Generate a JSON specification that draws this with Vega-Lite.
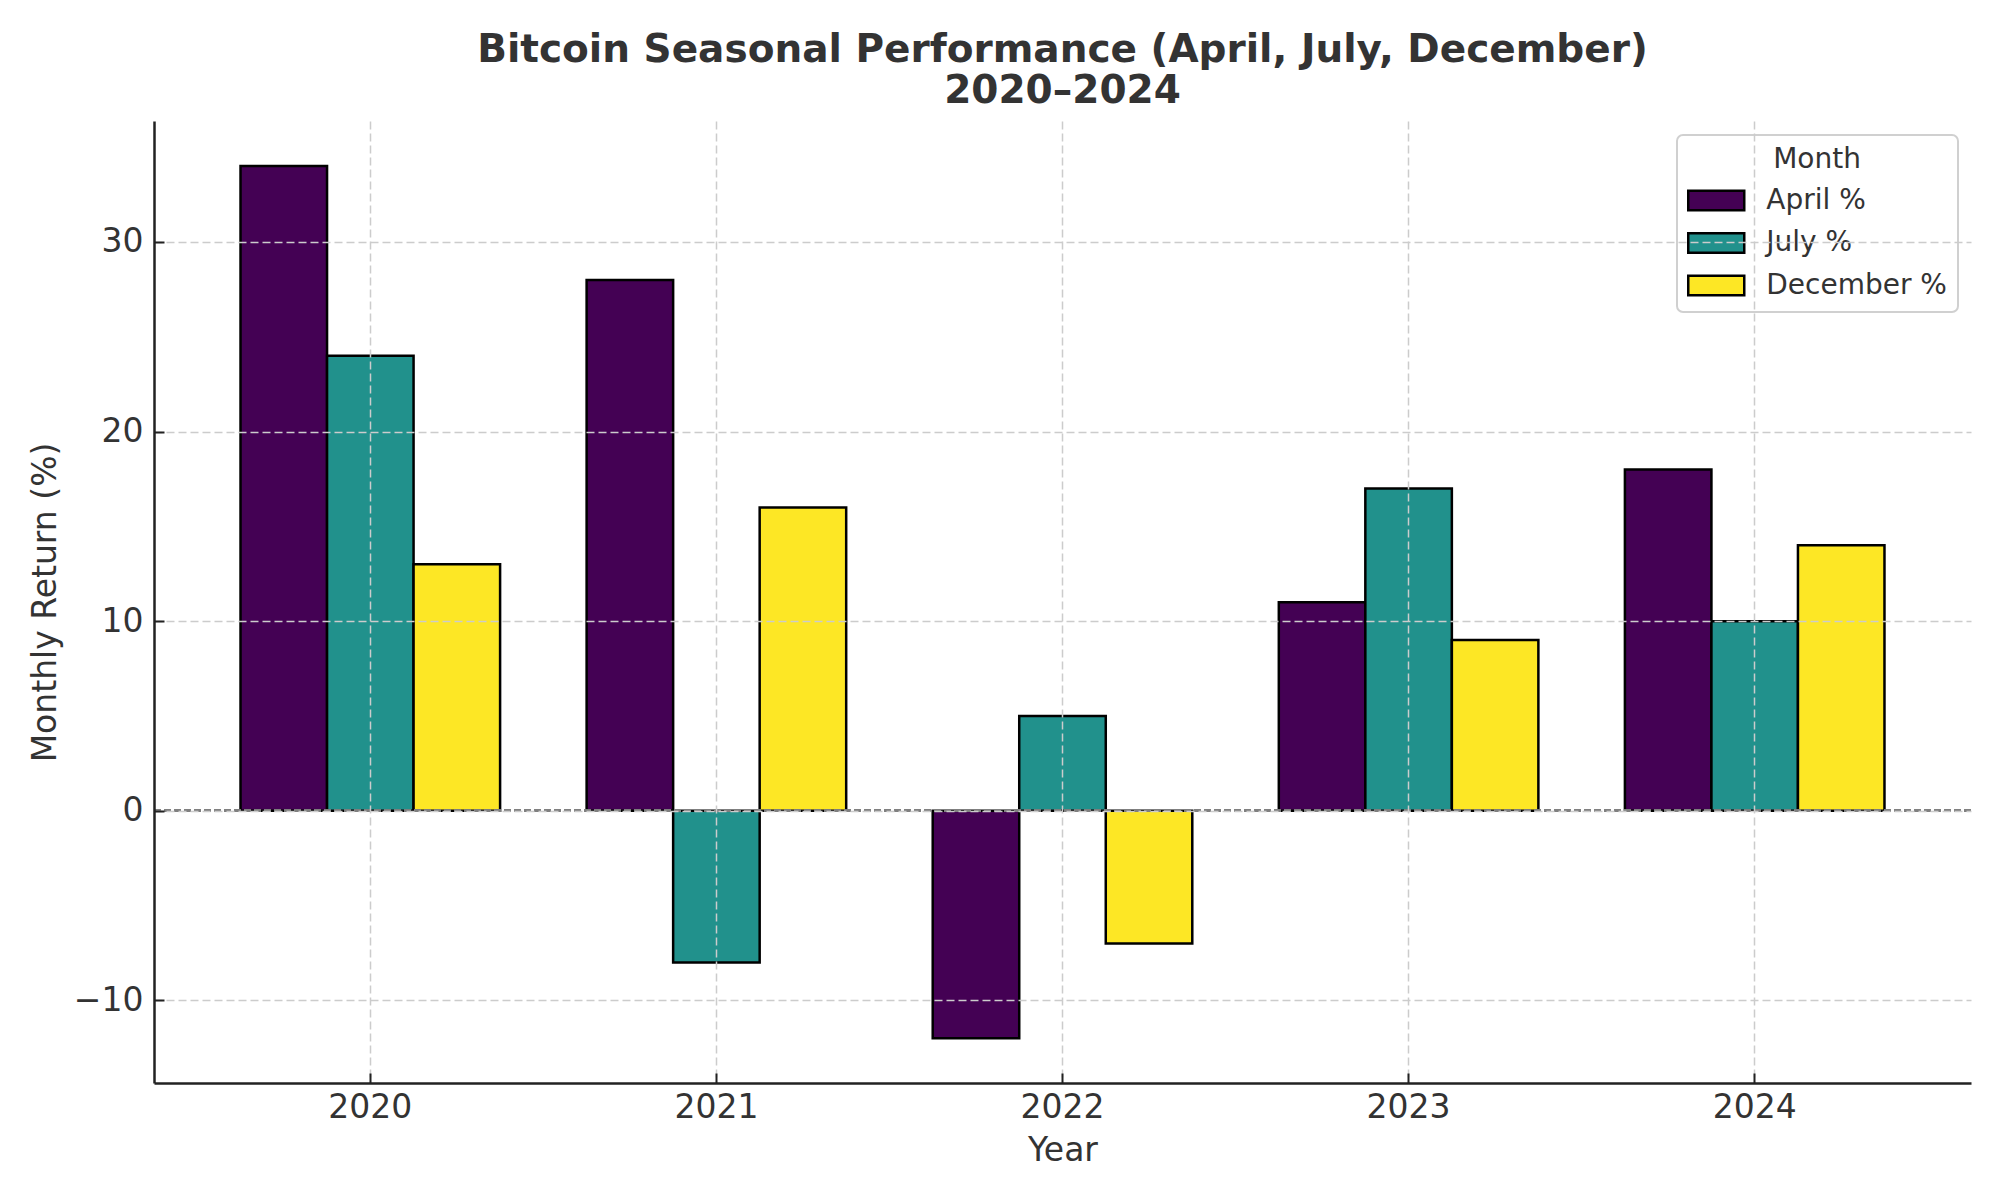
{
  "$schema": "https://vega.github.io/schema/vega-lite/v6.json",
  "width": 1817,
  "height": 962,
  "autosize": {"type": "none"},
  "padding": {"left": 154, "top": 121, "right": 29, "bottom": 117},
  "background": "white",
  "config": {
    "font": "DejaVu Sans",
    "view": {"stroke": null}
  },
  "title": {
    "text": ["Bitcoin Seasonal Performance (April, July, December)", "2020–2024"],
    "fontSize": 39,
    "fontWeight": "bold",
    "color": "#333333",
    "anchor": "middle",
    "frame": "group",
    "offset": -21,
    "baseline": "alphabetic",
    "lineHeight": 41
  },
  "data": {
    "values": [
      {"Year": "2020", "Month": "April %", "Return": 34},
      {"Year": "2020", "Month": "July %", "Return": 24},
      {"Year": "2020", "Month": "December %", "Return": 13},
      {"Year": "2021", "Month": "April %", "Return": 28},
      {"Year": "2021", "Month": "July %", "Return": -8},
      {"Year": "2021", "Month": "December %", "Return": 16},
      {"Year": "2022", "Month": "April %", "Return": -12},
      {"Year": "2022", "Month": "July %", "Return": 5},
      {"Year": "2022", "Month": "December %", "Return": -7},
      {"Year": "2023", "Month": "April %", "Return": 11},
      {"Year": "2023", "Month": "July %", "Return": 17},
      {"Year": "2023", "Month": "December %", "Return": 9},
      {"Year": "2024", "Month": "April %", "Return": 18},
      {"Year": "2024", "Month": "July %", "Return": 10},
      {"Year": "2024", "Month": "December %", "Return": 14}
    ]
  },
  "layer": [
    {
      "mark": {"type": "bar", "stroke": "black", "strokeWidth": 2.5},
      "encoding": {
        "x": {
          "field": "Year",
          "type": "nominal",
          "scale": {"paddingInner": 0.25, "paddingOuter": 0.25},
          "axis": {
            "title": "Year",
            "labelAngle": 0,
            "bandPosition": 0.5,
            "grid": true,
            "gridColor": "#cccccc",
            "gridDash": [8, 4],
            "gridWidth": 1.5,
            "domainColor": "#222222",
            "domainWidth": 2.5,
            "tickColor": "#222222",
            "tickWidth": 2,
            "tickSize": -10,
            "labelPadding": 18,
            "labelFontSize": 33,
            "labelColor": "#333333",
            "titleFontSize": 33,
            "titleFontWeight": "normal",
            "titleColor": "#333333",
            "titleX": 908.5,
            "titleY": 67,
            "titleBaseline": "middle",
            "titleAlign": "center",
            "zindex": 1
          }
        },
        "xOffset": {
          "field": "Month",
          "type": "nominal",
          "sort": ["April %", "July %", "December %"],
          "scale": {"paddingInner": 0, "paddingOuter": 0}
        },
        "y": {
          "field": "Return",
          "type": "quantitative",
          "scale": {"domain": [-14.36, 36.38], "nice": false, "zero": false},
          "axis": {
            "title": "Monthly Return (%)",
            "values": [-10, 0, 10, 20, 30],
            "grid": true,
            "gridColor": "#cccccc",
            "gridDash": [8, 4],
            "gridWidth": 1.5,
            "domainColor": "#222222",
            "domainWidth": 2.5,
            "tickColor": "#222222",
            "tickWidth": 2,
            "tickSize": -10,
            "labelPadding": 21,
            "labelFontSize": 33,
            "labelColor": "#333333",
            "titleFontSize": 33,
            "titleFontWeight": "normal",
            "titleColor": "#333333",
            "titleX": -109,
            "titleY": 481,
            "titleAngle": -90,
            "titleAlign": "center",
            "titleBaseline": "middle",
            "zindex": 1
          }
        },
        "y2": {"datum": 0},
        "color": {
          "field": "Month",
          "type": "nominal",
          "sort": ["April %", "July %", "December %"],
          "scale": {
            "domain": ["April %", "July %", "December %"],
            "range": ["#440154", "#21918c", "#fde725"]
          },
          "legend": {
            "orient": "none",
            "legendX": 1523,
            "legendY": 14,
            "title": "Month",
            "titleFontSize": 28,
            "titleFontWeight": "normal",
            "titleColor": "#333333",
            "titleAnchor": "middle",
            "titleAlign": "center",
            "titlePadding": 11,
            "labelFontSize": 28,
            "labelColor": "#333333",
            "labelLimit": 0,
            "symbolType": "M-2,-0.7H2V0.7H-2Z",
            "symbolSize": 784,
            "symbolStrokeColor": "black",
            "symbolStrokeWidth": 2.5,
            "symbolOpacity": 1,
            "symbolOffset": 12.75,
            "labelOffset": 34.5,
            "rowPadding": 11.5,
            "padding": 11,
            "strokeColor": "#d0d0d0",
            "cornerRadius": 6,
            "fillColor": "rgba(255,255,255,0.8)",
            "encode": {
              "legend": {"update": {"strokeWidth": {"value": 2}}}
            }
          }
        }
      }
    },
    {
      "mark": {"type": "rule", "color": "#808080", "strokeWidth": 2, "strokeDash": [7, 3]},
      "encoding": {
        "y": {"datum": 0, "type": "quantitative"}
      }
    }
  ]
}
